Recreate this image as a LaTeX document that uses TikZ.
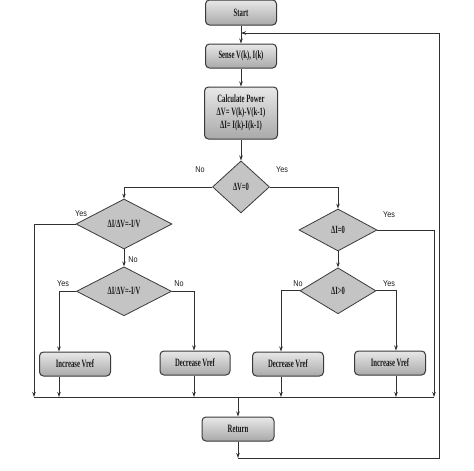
\documentclass[tikz,border=0pt]{standalone}
\usepackage{fontspec}
\setmainfont{Liberation Serif}
\newfontfamily\flowfont[FakeStretch=0.6]{Liberation Serif}
\newfontfamily\lblfont[FakeStretch=0.85]{Liberation Sans}
\usepackage{tikz}
\usetikzlibrary{arrows.meta,positioning,calc,shapes.geometric}
\definecolor{ink}{HTML}{1A1A1A}
\definecolor{boxbd}{HTML}{3A3A3A}
\definecolor{boxtop}{HTML}{E8E8E8}
\definecolor{boxbot}{HTML}{A9A9A9}
\definecolor{decfill}{HTML}{C4C4C4}
\definecolor{wire}{HTML}{303030}
\tikzset{
  procbox/.style={rectangle,rounded corners=4pt,draw=boxbd,line width=1pt,
    top color=boxtop,bottom color=boxbot,text=ink,align=center,
    font=\flowfont\bfseries\fontsize{11.2}{13}\selectfont,
    minimum width=71pt,minimum height=24pt,inner sep=2pt},
  decbox/.style={diamond,aspect=2,draw=boxbd,line width=0.8pt,
    fill=decfill,text=ink,inner sep=0pt,
    font=\flowfont\bfseries\fontsize{11}{12}\selectfont},
  flowarr/.style={-{Stealth[length=5pt,width=3.5pt]},line width=0.8pt,color=wire},
  flowline/.style={line width=0.8pt,color=wire},
  yn/.style={font=\lblfont\fontsize{8.5}{9}\selectfont,color=ink,inner sep=0pt},
}
\begin{document}
\begin{tikzpicture}[x=1pt,y=1pt, node distance=18pt]
  \useasboundingbox (0,0) rectangle (474,-471);

  % main column
  \node[procbox, minimum height=25pt] (start) at (241,-12.5) {Start};
  \node[procbox, below=of start] (sense) {Sense V(k), I(k)};
  \node[procbox, below=of sense, minimum width=73pt, minimum height=52pt] (calc)
    {Calculate Power\\ΔV= V(k)-V(k-1)\\ΔI= I(k)-I(k-1)};
  \node[decbox, below=21pt of calc, minimum width=57pt, minimum height=52pt] (dv) {ΔV=0};

  % left branch
  \node[decbox, minimum width=96pt, minimum height=50pt] (dslA) at (124,-224) {ΔI/ΔV=-I/V};
  \node[decbox, below=17pt of dslA, minimum width=95pt, minimum height=49pt] (dslB) {ΔI/ΔV=-I/V};
  \node[procbox] (incL) at (75,-364) {Increase Vref};
  \node[procbox, minimum width=70pt] (decL) at (195,-363) {Decrease Vref};

  % right branch
  \node[decbox, minimum width=78pt, minimum height=42pt] (di) at (338,-230) {ΔI=0};
  \node[decbox, below=16pt of di, minimum width=76pt, minimum height=46pt] (dip) {ΔI>0};
  \node[procbox] (decR) at (288,-364) {Decrease Vref};
  \node[procbox] (incR) at (390,-363) {Increase Vref};

  \node[procbox, minimum width=72pt] (ret) at (238,-429) {Return};

  % merge and loop points
  \coordinate (mL) at (34,-397);
  \coordinate (mR) at (434,-397);
  \coordinate (loopS) at (238,-458);
  \coordinate (loopE) at (439,-33);
  \coordinate (loopJ) at (241,-33);

  \draw[flowarr] (start) -- (sense);
  \draw[flowarr] (sense) -- (calc);
  \draw[flowarr] (calc) -- (dv);
  \draw[flowarr] (dv.west) -| (dslA.north);
  \draw[flowarr] (dv.east) -| (di.north);
  \draw[flowarr] (dslA.west) -| (mL);
  \draw[flowarr] (dslA) -- (dslB);
  \draw[flowarr] (dslB.west) -| ([xshift=-16pt]incL.north);
  \draw[flowarr] (dslB.east) -| ([xshift=-1pt]decL.north);
  \draw[flowarr] ([xshift=-16pt]incL.south) -- ([xshift=-16pt]incL.south |- mL);
  \draw[flowarr] ([xshift=-1pt]decL.south) -- ([xshift=-1pt]decL.south |- mL);
  \draw[flowarr] (di.east) -| (mR);
  \draw[flowarr] (di) -- (dip);
  \draw[flowarr] (dip.west) -| ([xshift=-7pt]decR.north);
  \draw[flowarr] (dip.east) -| ([xshift=6pt]incR.north);
  \draw[flowarr] ([xshift=-7pt]decR.south) -- ([xshift=-7pt]decR.south |- mL);
  \draw[flowarr] ([xshift=6pt]incR.south) -- ([xshift=6pt]incR.south |- mL);
  \draw[flowline] (mL) -- (mR);
  \draw[flowarr] (ret.north |- mL) -- (ret.north);
  \draw[flowarr] (ret) -- (loopS);
  \draw[flowarr] (loopS) -| (loopE) -- (loopJ);

  % branch labels
  \node[yn] (noV) at (200,-170) {No};
  \node[yn] (yesV) at (282,-170) {Yes};
  \node[yn] (yesA) at (81,-214) {Yes};
  \node[yn] (noA) at (133,-260) {No};
  \node[yn] (yesB) at (63,-284) {Yes};
  \node[yn] (noB) at (179,-284) {No};
  \node[yn] (yesI) at (389,-215) {Yes};
  \node[yn] (noP) at (298,-284) {No};
  \node[yn] (yesP) at (389,-284) {Yes};
\end{tikzpicture}
\end{document}
